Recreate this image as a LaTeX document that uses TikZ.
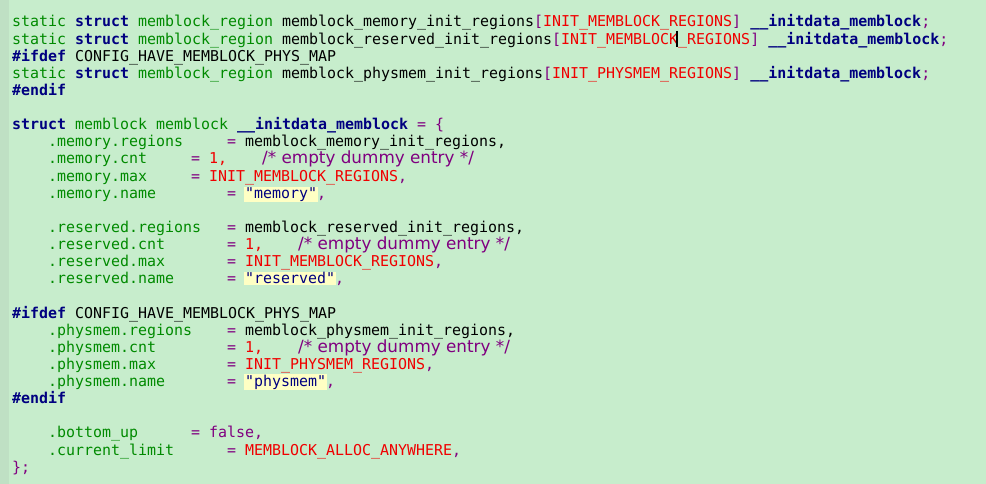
\documentclass[tikz,border=0pt]{standalone}
\usepackage{fontspec}
\setmonofont{DejaVu Sans Mono}
\newfontfamily\cmtfont{DejaVu Sans}
\definecolor{bg}{HTML}{C7EDCC}
\definecolor{strip}{HTML}{BFE0C4}
\definecolor{gn}{HTML}{008A00}
\definecolor{nv}{HTML}{000080}
\definecolor{rd}{HTML}{F00000}
\definecolor{pu}{HTML}{800080}
\definecolor{hl}{HTML}{FFFFC4}
\newcommand\Kw[1]{\textcolor{nv}{\bfseries #1}}
\newcommand\Gn[1]{\textcolor{gn}{#1}}
\newcommand\Rd[1]{\textcolor{rd}{#1}}
\newcommand\Pu[1]{\textcolor{pu}{#1}}
\newcommand\Cm[1]{\textcolor{pu}{\cmtfont\fontsize{16.8}{18}\selectfont #1}}
\newcommand\Sg[1]{{\setlength\fboxsep{0.8pt}\hspace{-0.8pt}\colorbox{hl}{\textcolor{nv}{"#1"}}\hspace{-0.8pt}}}
\begin{document}
\begin{tikzpicture}[x=1pt,y=1pt,
  tok/.style={anchor=base west,inner sep=0pt,font=\ttfamily\fontsize{14.95}{17}\selectfont}]
\fill[bg] (0,0) rectangle (986,-484);
\fill[strip] (0,0) rectangle (9,-484);
\useasboundingbox (0,0) rectangle (986,-484);
\def\B#1{-27-17.12*#1}
% header lines
\node[tok] (l0) at (12,{\B0}) {\Gn{static} \Kw{struct} \Gn{memblock\_region} memblock\_memory\_init\_regions\Pu{[}\Rd{INIT\_MEMBLOCK\_REGIONS}\Pu{]} \Kw{\_\_initdata\_memblock}\Pu{;}};
\node[tok] (l1) at (12,{\B1}) {\Gn{static} \Kw{struct} \Gn{memblock\_region} memblock\_reserved\_init\_regions\Pu{[}\Rd{INIT\_MEMBLOCK\_REGIONS}\Pu{]} \Kw{\_\_initdata\_memblock}\Pu{;}};
\node[tok] (l2) at (12,{\B2}) {\Kw{\#ifdef} CONFIG\_HAVE\_MEMBLOCK\_PHYS\_MAP};
\node[tok] (l3) at (12,{\B3}) {\Gn{static} \Kw{struct} \Gn{memblock\_region} memblock\_physmem\_init\_regions\Pu{[}\Rd{INIT\_PHYSMEM\_REGIONS}\Pu{]} \Kw{\_\_initdata\_memblock}\Pu{;}};
\node[tok] (l4) at (12,{\B4}) {\Kw{\#endif}};
\node[tok] (l6) at (12,{\B6}) {\Kw{struct} \Gn{memblock memblock} \Kw{\_\_initdata\_memblock} \Pu{= \{}};
% cursor
\coordinate (cur) at (677,-31);
\draw[black,line width=1.2pt] (cur) -- ++(0,-16);
% memory
\node[tok] (f7) at (48,{\B7}) {\Gn{.memory.regions}};
\node[tok] (e7) at (227,{\B7}) {\Pu{=}};
\node[tok] (v7) at (245,{\B7}) {memblock\_memory\_init\_regions,};
\node[tok] (f8) at (48,{\B8}) {\Gn{.memory.cnt}};
\node[tok] (e8) at (191,{\B8}) {\Pu{=}};
\node[tok] (v8) at (209,{\B8}) {\Rd{1,}};
\node[tok] (c8) at (262,{\B8}) {\Cm{/* empty dummy entry */}};
\node[tok] (f9) at (48,{\B9}) {\Gn{.memory.max}};
\node[tok] (e9) at (191,{\B9}) {\Pu{=}};
\node[tok] (v9) at (209,{\B9}) {\Rd{INIT\_MEMBLOCK\_REGIONS}\Pu{,}};
\node[tok] (f10) at (48,{\B{10}}) {\Gn{.memory.name}};
\node[tok] (e10) at (227,{\B{10}}) {\Pu{=}};
\node[tok] (v10) at (245,{\B{10}}) {\Sg{memory}\Pu{,}};
% reserved
\node[tok] (f12) at (48,{\B{12}}) {\Gn{.reserved.regions}};
\node[tok] (e12) at (227,{\B{12}}) {\Pu{=}};
\node[tok] (v12) at (245,{\B{12}}) {memblock\_reserved\_init\_regions,};
\node[tok] (f13) at (48,{\B{13}}) {\Gn{.reserved.cnt}};
\node[tok] (e13) at (227,{\B{13}}) {\Pu{=}};
\node[tok] (v13) at (245,{\B{13}}) {\Rd{1,}};
\node[tok] (c13) at (298,{\B{13}}) {\Cm{/* empty dummy entry */}};
\node[tok] (f14) at (48,{\B{14}}) {\Gn{.reserved.max}};
\node[tok] (e14) at (227,{\B{14}}) {\Pu{=}};
\node[tok] (v14) at (245,{\B{14}}) {\Rd{INIT\_MEMBLOCK\_REGIONS}\Pu{,}};
\node[tok] (f15) at (48,{\B{15}}) {\Gn{.reserved.name}};
\node[tok] (e15) at (227,{\B{15}}) {\Pu{=}};
\node[tok] (v15) at (245,{\B{15}}) {\Sg{reserved}\Pu{,}};
% physmem
\node[tok] (l17) at (12,{\B{17}}) {\Kw{\#ifdef} CONFIG\_HAVE\_MEMBLOCK\_PHYS\_MAP};
\node[tok] (f18) at (48,{\B{18}}) {\Gn{.physmem.regions}};
\node[tok] (e18) at (227,{\B{18}}) {\Pu{=}};
\node[tok] (v18) at (245,{\B{18}}) {memblock\_physmem\_init\_regions,};
\node[tok] (f19) at (48,{\B{19}}) {\Gn{.physmem.cnt}};
\node[tok] (e19) at (227,{\B{19}}) {\Pu{=}};
\node[tok] (v19) at (245,{\B{19}}) {\Rd{1,}};
\node[tok] (c19) at (298,{\B{19}}) {\Cm{/* empty dummy entry */}};
\node[tok] (f20) at (48,{\B{20}}) {\Gn{.physmem.max}};
\node[tok] (e20) at (227,{\B{20}}) {\Pu{=}};
\node[tok] (v20) at (245,{\B{20}}) {\Rd{INIT\_PHYSMEM\_REGIONS}\Pu{,}};
\node[tok] (f21) at (48,{\B{21}}) {\Gn{.physmem.name}};
\node[tok] (e21) at (227,{\B{21}}) {\Pu{=}};
\node[tok] (v21) at (245,{\B{21}}) {\Sg{physmem}\Pu{,}};
\node[tok] (l22) at (12,{\B{22}}) {\Kw{\#endif}};
% tail
\node[tok] (f24) at (48,{\B{24}}) {\Gn{.bottom\_up}};
\node[tok] (e24) at (191,{\B{24}}) {\Pu{=}};
\node[tok] (v24) at (209,{\B{24}}) {\Pu{false,}};
\node[tok] (f25) at (48,{\B{25}}) {\Gn{.current\_limit}};
\node[tok] (e25) at (227,{\B{25}}) {\Pu{=}};
\node[tok] (v25) at (245,{\B{25}}) {\Rd{MEMBLOCK\_ALLOC\_ANYWHERE}\Pu{,}};
\node[tok] (l26) at (12,{\B{26}}) {\Pu{\};}};
\end{tikzpicture}
\end{document}
